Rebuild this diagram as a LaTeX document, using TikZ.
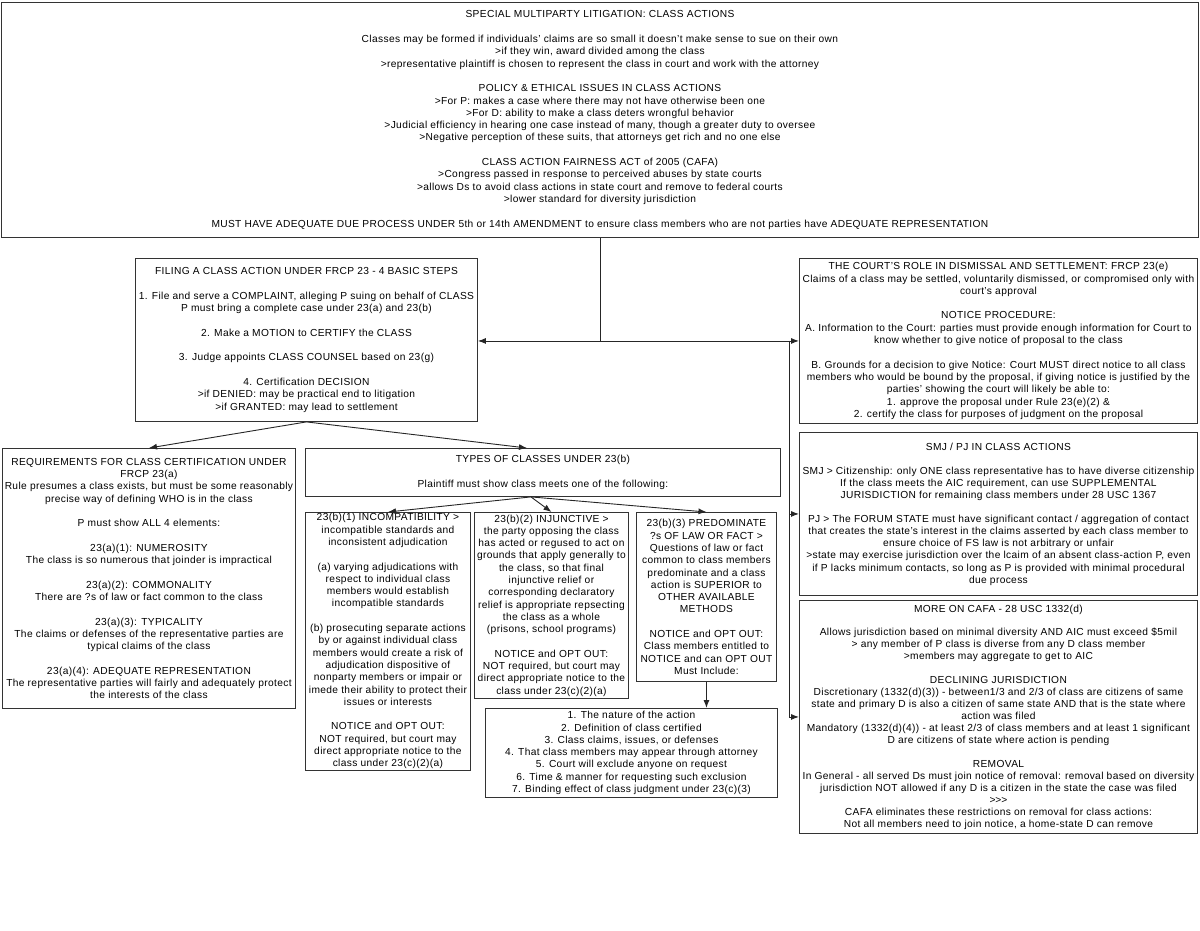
\documentclass[tikz,border=0pt]{standalone}
\usepackage{fontspec}
\setmainfont{Liberation Sans}[LetterSpace=3.5]
\usepackage{tikz}
\usetikzlibrary{arrows.meta}

\newcommand{\skipline}{\\[\baselineskip]}

\tikzset{
	cbox/.style={draw=black!80, line width=0.9pt, anchor=north west, align=center, inner sep=1pt, font=\fontsize{10.2}{12.3}\selectfont},
	arr/.style={draw=black!85, line width=0.9pt, -{Latex[length=8pt,width=6pt]}},
	lnk/.style={draw=black!85, line width=0.9pt}
}

\begin{document}
\begin{tikzpicture}[x=1pt,y=-1pt]
			\useasboundingbox (0,0) rectangle (1200,930);

			\node[cbox, minimum width=1197pt, minimum height=235pt] (intro) at (1,2) {SPECIAL MULTIPARTY LITIGATION: CLASS ACTIONS\skipline
				Classes may be formed if individuals' claims are so small it doesn't make sense to sue on their own\\
				>if they win, award divided among the class\\
				>representative plaintiff is chosen to represent the class in court and work with the attorney\skipline
				POLICY \& ETHICAL ISSUES IN CLASS ACTIONS\\
				>For P: makes a case where there may not have otherwise been one\\
				>For D: ability to make a class deters wrongful behavior\\
				>Judicial efficiency in hearing one case instead of many, though a greater duty to oversee\\
				>Negative perception of these suits, that attorneys get rich and no one else\skipline
				CLASS ACTION FAIRNESS ACT of 2005 (CAFA)\\
				>Congress passed in response to perceived abuses by state courts\\
				>allows Ds to avoid class actions in state court and remove to federal courts\\
				>lower standard for diversity jurisdiction\skipline
				MUST HAVE ADEQUATE DUE PROCESS UNDER 5th or 14th AMENDMENT to ensure class members who are not parties have ADEQUATE REPRESENTATION};

			\node[cbox, minimum width=342pt, minimum height=163pt] (filing) at (135,258) {FILING A CLASS ACTION UNDER FRCP 23 - 4 BASIC STEPS\skipline
				1. File and serve a COMPLAINT, alleging P suing on behalf of CLASS\\
				P must bring a complete case under 23(a) and 23(b)\skipline
				2. Make a MOTION to CERTIFY the CLASS\skipline
				3. Judge appoints CLASS COUNSEL based on 23(g)\skipline
				4. Certification DECISION\\
				>if DENIED: may be practical end to litigation\\
				>if GRANTED: may lead to settlement};

			\node[cbox, minimum width=398pt, minimum height=165pt] (court) at (799,258) {THE COURT'S ROLE IN DISMISSAL AND SETTLEMENT: FRCP 23(e)\\
				Claims of a class may be settled, voluntarily dismissed, or compromised only with\\
				court's approval\skipline
				NOTICE PROCEDURE:\\
				A. Information to the Court: parties must provide enough information for Court to\\
				know whether to give notice of proposal to the class\skipline
				B. Grounds for a decision to give Notice: Court MUST direct notice to all class\\
				members who would be bound by the proposal, if giving notice is justified by the\\
				parties' showing the court will likely be able to:\\
				1. approve the proposal under Rule 23(e)(2) \&\\
				2. certify the class for purposes of judgment on the proposal};

			\node[cbox, minimum width=293pt, minimum height=260pt] (req) at (2,448) {REQUIREMENTS FOR CLASS CERTIFICATION UNDER\\
				FRCP 23(a)\\
				Rule presumes a class exists, but must be some reasonably\\
				precise way of defining WHO is in the class\skipline
				P must show ALL 4 elements:\skipline
				23(a)(1): NUMEROSITY\\
				The class is so numerous that joinder is impractical\skipline
				23(a)(2): COMMONALITY\\
				There are ?s of law or fact common to the class\skipline
				23(a)(3): TYPICALITY\\
				The claims or defenses of the representative parties are\\
				typical claims of the class\skipline
				23(a)(4): ADEQUATE REPRESENTATION\\
				The representative parties will fairly and adequately protect\\
				the interests of the class};

			\node[cbox, minimum width=475pt, minimum height=48pt] (types) at (305,448) {TYPES OF CLASSES UNDER 23(b)\skipline
				Plaintiff must show class meets one of the following:};

			\node[cbox, minimum width=165pt, minimum height=254pt] (incomp) at (305,512) {23(b)(1) INCOMPATIBILITY >\\
				incompatible standards and\\
				inconsistent adjudication\skipline
				(a) varying adjudications with\\
				respect to individual class\\
				members would establish\\
				incompatible standards\skipline
				(b) prosecuting separate actions\\
				by or against individual class\\
				members would create a risk of\\
				adjudication dispositive of\\
				nonparty members or impair or\\
				imede their ability to protect their\\
				issues or interests\skipline
				NOTICE and OPT OUT:\\
				NOT required, but court may\\
				direct appropriate notice to the\\
				class under 23(c)(2)(a)};

			\node[cbox, minimum width=154pt, minimum height=186pt] (injunct) at (474,512) {23(b)(2) INJUNCTIVE >\\
				the party opposing the class\\
				has acted or regused to act on\\
				grounds that apply generally to\\
				the class, so that final\\
				injunctive relief or\\
				corresponding declaratory\\
				relief is appropriate repsecting\\
				the class as a whole\\
				(prisons, school programs)\skipline
				NOTICE and OPT OUT:\\
				NOT required, but court may\\
				direct appropriate notice to the\\
				class under 23(c)(2)(a)};

			\node[cbox, minimum width=140pt, minimum height=169pt] (predom) at (636,512) {23(b)(3) PREDOMINATE\\
				?s OF LAW OR FACT >\\
				Questions of law or fact\\
				common to class members\\
				predominate and a class\\
				action is SUPERIOR to\\
				OTHER AVAILABLE\\
				METHODS\skipline
				NOTICE and OPT OUT:\\
				Class members entitled to\\
				NOTICE and can OPT OUT\\
				Must Include:};

			\node[cbox, minimum width=292pt, minimum height=89pt] (inclist) at (485,708) {1. The nature of the action\\
				2. Definition of class certified\\
				3. Class claims, issues, or defenses\\
				4. That class members may appear through attorney\\
				5. Court will exclude anyone on request\\
				6. Time \& manner for requesting such exclusion\\
				7. Binding effect of class judgment under 23(c)(3)};

			\node[cbox, minimum width=398pt, minimum height=163pt, font=\fontsize{10.2}{12.1}\selectfont] (smj) at (799,432) {SMJ / PJ IN CLASS ACTIONS\skipline
				SMJ > Citizenship: only ONE class representative has to have diverse citizenship\\
				If the class meets the AIC requirement, can use SUPPLEMENTAL\\
				JURISDICTION for remaining class members under 28 USC 1367\skipline
				PJ > The FORUM STATE must have significant contact / aggregation of contact\\
				that creates the state's interest in the claims asserted by each class member to\\
				ensure choice of FS law is not arbitrary or unfair\\
				>state may exercise jurisdiction over the lcaim of an absent class-action P, even\\
				if P lacks minimum contacts, so long as P is provided with minimal procedural\\
				due process};

			\node[cbox, minimum width=398pt, minimum height=233pt, font=\fontsize{10.2}{11.95}\selectfont] (cafa) at (799,600) {MORE ON CAFA - 28 USC 1332(d)\skipline
				Allows jurisdiction based on minimal diversity AND AIC must exceed \$5mil\\
				> any member of P class is diverse from any D class member\\
				>members may aggregate to get to AIC\skipline
				DECLINING JURISDICTION\\
				Discretionary (1332(d)(3)) - between1/3 and 2/3 of class are citizens of same\\
				state and primary D is also a citizen of same state AND that is the state where\\
				action was filed\\
				Mandatory (1332(d)(4)) - at least 2/3 of class members and at least 1 significant\\
				D are citizens of state where action is pending\skipline
				REMOVAL\\
				In General - all served Ds must join notice of removal: removal based on diversity\\
				jurisdiction NOT allowed if any D is a citizen in the state the case was filed\\
				>\kern0pt>\kern0pt>\\
				CAFA eliminates these restrictions on removal for class actions:\\
				Not all members need to join notice, a home-state D can remove};

			\coordinate (hub) at (intro.south |- court.west);
			\coordinate (drop) at ([xshift=-10pt]court.west);

			\draw[lnk] (intro.south) -- (hub);
			\draw[arr] (hub) -- (hub -| filing.east);
			\draw[arr] (hub) -- (court.west);
			\draw[arr] (drop) |- (smj.west);
			\draw[arr] (drop) |- (cafa.west);

			\draw[arr] (filing.south) -- (req.north);
			\draw[arr] (filing.south) -- ([xshift=-16pt]types.north);

			\draw[arr] ([xshift=-12pt]types.south) -- (incomp.north);
			\draw[arr] ([xshift=-12pt]types.south) -- (injunct.north);
			\draw[arr] ([xshift=-12pt]types.south) -- (predom.north);

			\draw[arr] (predom.south) -- (predom.south |- inclist.north);
		\end{tikzpicture}
\end{document}
